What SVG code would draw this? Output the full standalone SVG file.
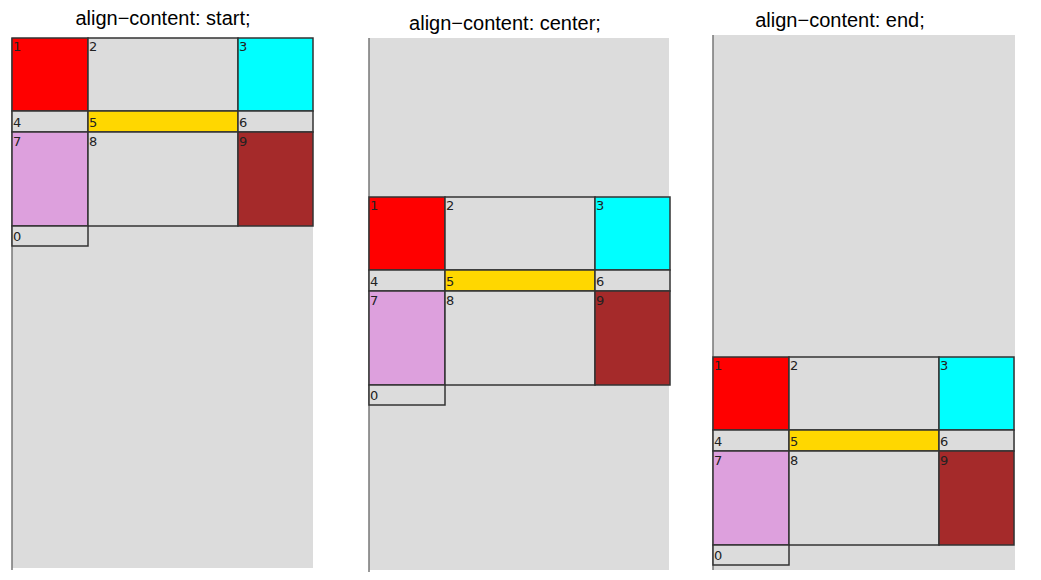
<svg xmlns="http://www.w3.org/2000/svg" width="1041" height="580" viewBox="0 0 1041 580">
<style>
.t{font-family:"Liberation Sans",Arial,sans-serif;font-size:20px;fill:#000;text-anchor:middle}
.bg{fill:#dcdcdc}
.c{stroke:#333;stroke-width:1.5}
.n{font-family:"DejaVu Sans",sans-serif;font-size:13px;fill:#222}
.edge{stroke:#777;stroke-width:1.5}
</style>
<rect width="1041" height="580" fill="#fff"/>
<text class="t" x="163" y="25">align−content:  start;</text>
<text class="t" x="505" y="30">align−content:  center;</text>
<text class="t" x="840" y="27">align−content:  end;</text>
<defs>
<g id="grid">
<rect class="c" x="0" y="0" width="76" height="73" fill="#ff0000"/>
<rect class="c" x="76" y="0" width="150" height="73" fill="#dcdcdc"/>
<rect class="c" x="226" y="0" width="75" height="73" fill="#00ffff"/>
<rect class="c" x="0" y="73" width="76" height="21" fill="#dcdcdc"/>
<rect class="c" x="76" y="73" width="150" height="21" fill="#ffd700"/>
<rect class="c" x="226" y="73" width="75" height="21" fill="#dcdcdc"/>
<rect class="c" x="0" y="94" width="76" height="94" fill="#dda0dd"/>
<rect class="c" x="76" y="94" width="150" height="94" fill="#dcdcdc"/>
<rect class="c" x="226" y="94" width="75" height="94" fill="#a52a2a"/>
<rect class="c" x="0" y="188" width="76" height="20" fill="#dcdcdc" stroke="#555"/>
<text class="n" x="1" y="13">1</text><text class="n" x="77" y="13">2</text><text class="n" x="227" y="13">3</text>
<text class="n" x="1" y="89">4</text><text class="n" x="77" y="89">5</text><text class="n" x="227" y="89">6</text>
<text class="n" x="1" y="108">7</text><text class="n" x="77" y="108">8</text><text class="n" x="227" y="108">9</text>
<text class="n" x="1" y="203">0</text>
</g>
</defs>
<g id="panel-start">
<rect class="bg" x="12" y="38" width="301" height="530"/>
<line class="edge" x1="12" y1="38" x2="12" y2="570"/>
<use href="#grid" x="12" y="38"/>
</g>
<g id="panel-center">
<rect class="bg" x="369" y="38" width="300" height="532"/>
<line class="edge" x1="369" y1="38" x2="369" y2="572"/>
<use href="#grid" x="369" y="197"/>
</g>
<g id="panel-end">
<rect class="bg" x="713" y="35" width="302" height="535"/>
<line class="edge" x1="713" y1="35" x2="713" y2="570"/>
<use href="#grid" x="713" y="357"/>
</g>
</svg>
